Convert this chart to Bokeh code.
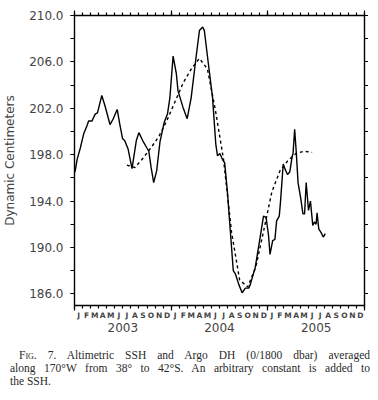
from bokeh.plotting import figure
from bokeh.models import LinearAxis, FixedTicker, Range1d, Div, CustomLabelingPolicy
from bokeh.layouts import column
from bokeh.embed import file_html
from bokeh.resources import INLINE

# ---- data (months since Jan 2003) ----
ssh_month = [0.06, 0.33, 0.73, 1.14, 1.55, 1.75, 2.17, 2.57, 2.85, 3.39, 3.79, 4.41, 4.81, 5.30,
             5.63, 5.96, 6.24, 6.65, 7.14, 7.67, 7.99, 8.48, 8.97, 9.22, 9.51, 9.83, 10.20, 10.61,
             11.14, 11.54, 11.84, 12.24, 12.64, 12.85, 13.46, 13.99, 14.48, 15.09, 15.51, 15.91,
             16.12, 16.52, 17.14, 17.54, 17.75, 18.05, 18.36, 18.64, 18.97, 19.38, 19.71, 19.99,
             20.40, 20.81, 21.21, 21.63, 21.82, 22.44, 23.05, 23.46, 23.78, 24.08, 24.27, 24.60,
             24.88, 25.09, 25.42, 25.58, 25.91, 26.11, 26.44, 26.72, 27.01, 27.13, 27.33, 27.54,
             27.75, 28.07, 28.36, 28.56, 28.76, 29.05, 29.29, 29.58, 29.78, 29.99, 30.11, 30.32,
             30.60, 30.88, 31.13]
ssh_value = [196.5, 197.6, 198.6, 199.8, 200.5, 200.9, 200.9, 201.5, 201.6, 203.1, 202.2, 200.6,
             201.1, 201.9, 200.6, 199.4, 199.2, 198.5, 196.8, 199.2, 199.9, 199.2, 198.6, 198.3,
             196.9, 195.6, 196.6, 199.1, 200.8, 201.5, 202.9, 206.5, 205.0, 203.5, 202.1, 201.1,
             202.9, 206.4, 208.7, 209.0, 208.7, 206.4, 202.9, 198.9, 197.9, 198.1, 197.6, 197.3,
             194.9, 191.1, 188.0, 187.7, 186.8, 186.1, 186.5, 186.5, 186.8, 188.3, 190.9, 192.7,
             192.6, 191.1, 189.4, 190.6, 190.7, 192.3, 192.7, 194.0, 197.2, 196.8, 196.3, 196.5,
             197.8, 198.1, 200.2, 198.1, 195.6, 194.3, 192.9, 192.9, 195.6, 193.2, 194.0, 191.9,
             192.2, 192.0, 193.0, 191.6, 191.3, 190.9, 191.2]

argo_month = [6.5, 7.5, 8.5, 9.5, 10.5, 11.5, 12.5, 13.5, 14.5, 15.5, 16.5, 17.5,
              18.5, 19.5, 20.5, 21.5, 22.5, 23.5, 24.5, 25.5, 26.5, 27.5, 28.5, 29.5]
argo_value = [197.1, 196.9, 197.7, 198.6, 199.6, 201.0, 202.6, 204.2, 205.4, 206.3, 205.4, 201.8,
              197.6, 191.3, 187.2, 186.6, 188.3, 191.5, 194.8, 196.6, 197.5, 198.1, 198.3, 198.2]

month_letters = ["J", "F", "M", "A", "M", "J", "J", "A", "S", "O", "N", "D"]
years = ["2003", "2004", "2005"]
y_major = [186, 190, 194, 198, 202, 206, 210]
y_minor = [186, 188, 190, 192, 194, 196, 198, 200, 202, 204, 206, 208, 210]

FONT = "DejaVu Sans"

p = figure(width=368, height=340, x_range=Range1d(0, 36), y_range=Range1d(185, 210),
           output_backend="svg", toolbar_location=None,
           x_axis_type=None, y_axis_type=None,
           min_border_left=70, min_border_right=4, min_border_top=15, min_border_bottom=35)
p.outline_line_color = None
p.background_fill_color = "white"
p.border_fill_color = "white"

p.line(ssh_month, ssh_value, line_color="black", line_width=1.4)
p.line(argo_month, argo_value, line_color="black", line_width=1.4, line_dash="3 3")

n_months = 36
x_major = [0, 12, 24, 36]
x_minor = list(range(n_months + 1))

NO_LABELS = "for (const i of Array.from(indices)) { indices.unset(i) }\nreturn indices"


def hide_labels(ax):
    ax.major_label_text_font_size = "0px"
    ax.major_label_standoff = 0
    ax.major_label_policy = CustomLabelingPolicy(code=NO_LABELS)


def tick_axis(loc):
    ax = LinearAxis(ticker=FixedTicker(ticks=x_major, minor_ticks=x_minor))
    ax.major_tick_out = 5
    ax.major_tick_in = 0
    ax.minor_tick_out = 3
    ax.minor_tick_in = 0
    ax.axis_line_width = 1.4
    ax.major_tick_line_width = 1.2
    ax.minor_tick_line_width = 1.2
    hide_labels(ax)
    p.add_layout(ax, loc)
    return ax


tick_axis("below")
tick_axis("above")

centers = [i + 0.5 for i in range(n_months)]
mon_ax = LinearAxis(ticker=FixedTicker(ticks=centers, minor_ticks=[]))
mon_ax.major_label_overrides = {c: month_letters[i % 12] for i, c in enumerate(centers)}
mon_ax.major_tick_out = 0
mon_ax.major_tick_in = 0
mon_ax.minor_tick_out = 0
mon_ax.minor_tick_in = 0
mon_ax.axis_line_color = None
mon_ax.major_label_standoff = 0
mon_ax.major_label_text_font = FONT
mon_ax.major_label_text_font_style = "bold"
mon_ax.major_label_text_font_size = "7.5px"
p.add_layout(mon_ax, "below")

yr_ticks = [6, 18, 30]
yr_ax = LinearAxis(ticker=FixedTicker(ticks=yr_ticks, minor_ticks=[]))
yr_ax.major_label_overrides = {t: years[i] for i, t in enumerate(yr_ticks)}
yr_ax.major_tick_out = 0
yr_ax.major_tick_in = 0
yr_ax.minor_tick_out = 0
yr_ax.minor_tick_in = 0
yr_ax.axis_line_color = None
yr_ax.major_label_standoff = 0
yr_ax.major_label_text_font = FONT
yr_ax.major_label_text_font_size = "12px"
p.add_layout(yr_ax, "below")

left = LinearAxis(ticker=FixedTicker(ticks=y_major, minor_ticks=y_minor))
left.major_label_overrides = {v: f"{v:.1f}" for v in y_major}
left.major_tick_out = 4
left.major_tick_in = 0
left.minor_tick_out = 4
left.minor_tick_in = 0
left.axis_line_width = 1.4
left.major_tick_line_width = 1.2
left.minor_tick_line_width = 1.2
left.major_label_standoff = 7
left.major_label_text_font = FONT
left.major_label_text_font_size = "12px"
left.axis_label = "Dynamic Centimeters"
left.axis_label_text_font = FONT
left.axis_label_text_font_size = "12px"
left.axis_label_text_font_style = "normal"
left.axis_label_standoff = 9
p.add_layout(left, "left")

right = LinearAxis(ticker=FixedTicker(ticks=y_minor, minor_ticks=[]))
right.major_tick_out = 4
right.major_tick_in = 0
right.minor_tick_out = 0
right.minor_tick_in = 0
right.axis_line_width = 1.4
right.major_tick_line_width = 1.2
hide_labels(right)
p.add_layout(right, "right")

caption_html = (
    '<div style="font-family:\'Liberation Serif\',serif;font-size:11.5px;line-height:13px;'
    'color:#2a2a2a;width:360px;margin-left:5px;margin-top:4px">'
    '<div style="text-align:justify;text-align-last:justify;padding-left:9px">'
    '<span style="font-variant:small-caps">Fig.</span> 7. Altimetric SSH and Argo DH (0/1800 dbar) averaged</div>'
    '<div style="text-align:justify;text-align-last:justify">'
    'along 170°W from 38° to 42°S. An arbitrary constant is added to</div>'
    '<div>the SSH.</div></div>'
)
cap = Div(text=caption_html, width=368, height=55)

layout = column(p, cap)

open("out.html", "w").write(file_html(layout, INLINE))
